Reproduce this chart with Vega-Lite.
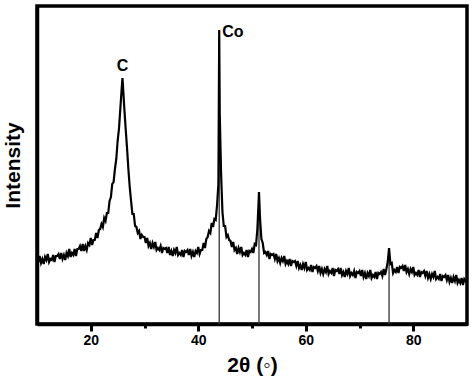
{
  "$schema": "https://vega.github.io/schema/vega-lite/v6.json",
  "width": 430,
  "height": 318,
  "autosize": {"type": "none"},
  "padding": {"left": 37, "top": 6, "right": 7, "bottom": 61},
  "background": "white",
  "config": {
    "view": {"stroke": "black", "strokeWidth": 3.5},
    "font": "Liberation Sans"
  },
  "datasets": {
    "xrd": [
      {"x":10,"y":67},{"x":10.25,"y":62},{"x":10.5,"y":68},{"x":10.75,"y":61},
      {"x":11,"y":65},{"x":11.25,"y":60},{"x":11.5,"y":67},{"x":11.75,"y":64},
      {"x":12,"y":70},{"x":12.25,"y":62},{"x":12.5,"y":65},{"x":12.75,"y":64},
      {"x":13,"y":69},{"x":13.25,"y":62},{"x":13.5,"y":68},{"x":13.75,"y":68},
      {"x":14,"y":70},{"x":14.25,"y":65},{"x":14.5,"y":71},{"x":14.75,"y":65},
      {"x":15,"y":69},{"x":15.25,"y":64},{"x":15.5,"y":71},{"x":15.75,"y":68},
      {"x":16,"y":75},{"x":16.25,"y":67},{"x":16.5,"y":71},{"x":16.75,"y":69},
      {"x":17,"y":75},{"x":17.25,"y":68},{"x":17.5,"y":75},{"x":17.75,"y":75},
      {"x":18,"y":78},{"x":18.25,"y":73},{"x":18.5,"y":80},{"x":18.75,"y":73},
      {"x":19,"y":78},{"x":19.25,"y":74},{"x":19.5,"y":81},{"x":19.75,"y":79},
      {"x":20,"y":86},{"x":20.25,"y":79},{"x":20.5,"y":84},{"x":20.75,"y":84},
      {"x":21,"y":91},{"x":21.25,"y":86},{"x":21.5,"y":94},{"x":21.75,"y":95},
      {"x":22,"y":100},{"x":22.25,"y":97},{"x":22.5,"y":106},{"x":22.75,"y":103},
      {"x":23,"y":111},{"x":23.25,"y":111},{"x":23.5,"y":123},{"x":23.75,"y":127},
      {"x":24,"y":140},{"x":24.25,"y":142},{"x":24.5,"y":155},{"x":24.75,"y":165},
      {"x":25,"y":183},{"x":25.25,"y":195},{"x":25.5,"y":215},{"x":25.75,"y":235},
      {"x":25.9,"y":246},
      {"x":26,"y":238},{"x":26.25,"y":215},{"x":26.5,"y":195},{"x":26.75,"y":176},
      {"x":27,"y":155},{"x":27.25,"y":137},{"x":27.5,"y":123},{"x":27.75,"y":110},
      {"x":28,"y":110},{"x":28.25,"y":98},{"x":28.5,"y":97},{"x":28.75,"y":91},
      {"x":29,"y":93},{"x":29.25,"y":85},{"x":29.5,"y":89},{"x":29.75,"y":87},
      {"x":30,"y":87},{"x":30.25,"y":81},{"x":30.5,"y":86},{"x":30.75,"y":78},
      {"x":31,"y":81},{"x":31.25,"y":75},{"x":31.5,"y":81},{"x":31.75,"y":77},
      {"x":32,"y":82},{"x":32.25,"y":74},{"x":32.5,"y":76},{"x":32.75,"y":74},
      {"x":33,"y":78},{"x":33.25,"y":71},{"x":33.5,"y":76},{"x":33.75,"y":75},
      {"x":34,"y":76},{"x":34.25,"y":71},{"x":34.5,"y":77},{"x":34.75,"y":69},
      {"x":35,"y":73},{"x":35.25,"y":68},{"x":35.5,"y":74},{"x":35.75,"y":71},
      {"x":36,"y":77},{"x":36.25,"y":69},{"x":36.5,"y":71},{"x":36.75,"y":69},
      {"x":37,"y":74},{"x":37.25,"y":67},{"x":37.5,"y":73},{"x":37.75,"y":72},
      {"x":38,"y":74},{"x":38.25,"y":69},{"x":38.5,"y":75},{"x":38.75,"y":68},
      {"x":39,"y":72},{"x":39.25,"y":67},{"x":39.5,"y":73},{"x":39.75,"y":71},
      {"x":40,"y":77},{"x":40.25,"y":70},{"x":40.5,"y":74},{"x":40.75,"y":74},
      {"x":41,"y":81},{"x":41.25,"y":76},{"x":41.5,"y":85},{"x":41.75,"y":87},
      {"x":42,"y":93},{"x":42.25,"y":91},{"x":42.5,"y":101},{"x":42.75,"y":97},
      {"x":43,"y":105},{"x":43.25,"y":104},{"x":43.5,"y":119},{"x":43.75,"y":140},
      {"x":43.9,"y":294},
      {"x":44,"y":210},{"x":44.25,"y":150},{"x":44.5,"y":112},{"x":44.75,"y":98},
      {"x":45,"y":98},{"x":45.25,"y":87},{"x":45.5,"y":89},{"x":45.75,"y":84},
      {"x":46,"y":83},{"x":46.25,"y":77},{"x":46.5,"y":82},{"x":46.75,"y":74},
      {"x":47,"y":76},{"x":47.25,"y":70},{"x":47.5,"y":76},{"x":47.75,"y":72},
      {"x":48,"y":77},{"x":48.25,"y":69},{"x":48.5,"y":71},{"x":48.75,"y":69},
      {"x":49,"y":74},{"x":49.25,"y":67},{"x":49.5,"y":73},{"x":49.75,"y":72},
      {"x":50,"y":75},{"x":50.25,"y":71},{"x":50.5,"y":80},{"x":50.75,"y":79},
      {"x":51,"y":95},{"x":51.25,"y":125},{"x":51.3,"y":132},{"x":51.5,"y":105},{"x":51.75,"y":85},
      {"x":52,"y":81},{"x":52.25,"y":71},{"x":52.5,"y":72},{"x":52.75,"y":69},
      {"x":53,"y":73},{"x":53.25,"y":65},{"x":53.5,"y":70},{"x":53.75,"y":69},
      {"x":54,"y":70},{"x":54.25,"y":65},{"x":54.5,"y":70},{"x":54.75,"y":63},
      {"x":55,"y":66},{"x":55.25,"y":61},{"x":55.5,"y":66},{"x":55.75,"y":63},
      {"x":56,"y":68},{"x":56.25,"y":60},{"x":56.5,"y":63},{"x":56.75,"y":60},
      {"x":57,"y":65},{"x":57.25,"y":58},{"x":57.5,"y":63},{"x":57.75,"y":62},
      {"x":58,"y":63},{"x":58.25,"y":58},{"x":58.5,"y":63},{"x":58.75,"y":56},
      {"x":59,"y":59},{"x":59.25,"y":54},{"x":59.5,"y":60},{"x":59.75,"y":56},
      {"x":60,"y":62},{"x":60.25,"y":54},{"x":60.5,"y":56},{"x":60.75,"y":54},
      {"x":61,"y":59},{"x":61.25,"y":52},{"x":61.5,"y":57},{"x":61.75,"y":56},
      {"x":62,"y":58},{"x":62.25,"y":53},{"x":62.5,"y":58},{"x":62.75,"y":51},
      {"x":63,"y":55},{"x":63.25,"y":50},{"x":63.5,"y":55},{"x":63.75,"y":52},
      {"x":64,"y":58},{"x":64.25,"y":50},{"x":64.5,"y":53},{"x":64.75,"y":51},
      {"x":65,"y":56},{"x":65.25,"y":48},{"x":65.5,"y":54},{"x":65.75,"y":53},
      {"x":66,"y":55},{"x":66.25,"y":50},{"x":66.5,"y":56},{"x":66.75,"y":49},
      {"x":67,"y":52},{"x":67.25,"y":47},{"x":67.5,"y":53},{"x":67.75,"y":50},
      {"x":68,"y":56},{"x":68.25,"y":48},{"x":68.5,"y":51},{"x":68.75,"y":49},
      {"x":69,"y":53},{"x":69.25,"y":46},{"x":69.5,"y":52},{"x":69.75,"y":51},
      {"x":70,"y":53},{"x":70.25,"y":48},{"x":70.5,"y":54},{"x":70.75,"y":47},
      {"x":71,"y":51},{"x":71.25,"y":45},{"x":71.5,"y":51},{"x":71.75,"y":48},
      {"x":72,"y":54},{"x":72.25,"y":46},{"x":72.5,"y":49},{"x":72.75,"y":47},
      {"x":73,"y":52},{"x":73.25,"y":45},{"x":73.5,"y":51},{"x":73.75,"y":50},
      {"x":74,"y":52},{"x":74.25,"y":48},{"x":74.5,"y":55},{"x":74.75,"y":49},
      {"x":75,"y":55},{"x":75.25,"y":62},{"x":75.5,"y":76},{"x":75.75,"y":60},
      {"x":76,"y":61},{"x":76.25,"y":51},{"x":76.5,"y":54},{"x":76.75,"y":52},
      {"x":77,"y":57},{"x":77.25,"y":51},{"x":77.5,"y":57},{"x":77.75,"y":56},
      {"x":78,"y":58},{"x":78.25,"y":53},{"x":78.5,"y":59},{"x":78.75,"y":52},
      {"x":79,"y":55},{"x":79.25,"y":50},{"x":79.5,"y":55},{"x":79.75,"y":52},
      {"x":80,"y":57},{"x":80.25,"y":49},{"x":80.5,"y":51},{"x":80.75,"y":49},
      {"x":81,"y":54},{"x":81.25,"y":47},{"x":81.5,"y":52},{"x":81.75,"y":51},
      {"x":82,"y":53},{"x":82.25,"y":48},{"x":82.5,"y":53},{"x":82.75,"y":46},
      {"x":83,"y":50},{"x":83.25,"y":45},{"x":83.5,"y":50},{"x":83.75,"y":47},
      {"x":84,"y":53},{"x":84.25,"y":45},{"x":84.5,"y":47},{"x":84.75,"y":45},
      {"x":85,"y":50},{"x":85.25,"y":43},{"x":85.5,"y":48},{"x":85.75,"y":47},
      {"x":86,"y":49},{"x":86.25,"y":44},{"x":86.5,"y":49},{"x":86.75,"y":42},
      {"x":87,"y":46},{"x":87.25,"y":41},{"x":87.5,"y":47},{"x":87.75,"y":43},
      {"x":88,"y":49},{"x":88.25,"y":41},{"x":88.5,"y":44},{"x":88.75,"y":41},
      {"x":89,"y":46},{"x":89.25,"y":39},{"x":89.5,"y":45},{"x":89.75,"y":43},
      {"x":90,"y":45}
    ],
    "sticks": [
      {"x":43.9,"y":294},{"x":51.3,"y":132},{"x":75.5,"y":76}
    ],
    "labels": [
      {"x":25.9,"y":246,"label":"C","pos":"center"},
      {"x":43.9,"y":294,"label":"Co","pos":"left"}
    ]
  },
  "layer": [
    {
      "data": {"name": "sticks"},
      "mark": {"type": "rule", "color": "#333333", "strokeWidth": 1.3},
      "encoding": {
        "x": {"field": "x", "type": "quantitative", "scale": {"domain": [10, 90], "nice": false, "zero": false},
          "axis": {
            "values": [20, 30, 40, 50, 60, 70, 80],
            "labelExpr": "datum.value % 20 == 0 ? datum.label : ''",
            "title": "2θ (◦)",
            "grid": false,
            "domain": true, "domainColor": "black", "domainWidth": 3.5,
            "tickColor": "black", "tickWidth": 3,
            "tickSize": {"condition": {"test": "datum.value % 20 == 0", "value": 7}, "value": 4},
            "labelFont": "Liberation Sans", "labelFontWeight": "bold", "labelFontSize": 14, "labelColor": "black", "labelPadding": 2,
            "titleFont": "Liberation Sans", "titleFontWeight": "bold", "titleFontSize": 21, "titleColor": "black", "titlePadding": 7
          }},
        "y": {"field": "y", "type": "quantitative", "scale": {"domain": [0, 318], "nice": false},
          "axis": {
            "title": "Intensity",
            "ticks": false, "labels": false, "grid": false,
            "domain": true, "domainColor": "black", "domainWidth": 3.5,
            "titleFont": "Liberation Sans", "titleFontWeight": "bold", "titleFontSize": 21, "titleColor": "black", "titlePadding": 14
          }},
        "y2": {"datum": 0}
      }
    },
    {
      "data": {"name": "xrd"},
      "mark": {"type": "line", "color": "black", "strokeWidth": 2.2},
      "encoding": {
        "x": {"field": "x", "type": "quantitative"},
        "y": {"field": "y", "type": "quantitative"}
      }
    },
    {
      "data": {"name": "labels"},
      "transform": [{"filter": "datum.pos == 'center'"}],
      "mark": {"type": "text", "font": "Liberation Sans", "fontWeight": "bold", "fontSize": 16, "color": "black", "align": "center", "baseline": "bottom", "dy": -4},
      "encoding": {
        "x": {"field": "x", "type": "quantitative"},
        "y": {"field": "y", "type": "quantitative"},
        "text": {"field": "label"}
      }
    },
    {
      "data": {"name": "labels"},
      "transform": [{"filter": "datum.pos == 'left'"}],
      "mark": {"type": "text", "font": "Liberation Sans", "fontWeight": "bold", "fontSize": 16, "color": "black", "align": "left", "baseline": "middle", "dx": 3, "dy": 2},
      "encoding": {
        "x": {"field": "x", "type": "quantitative"},
        "y": {"field": "y", "type": "quantitative"},
        "text": {"field": "label"}
      }
    }
  ]
}
